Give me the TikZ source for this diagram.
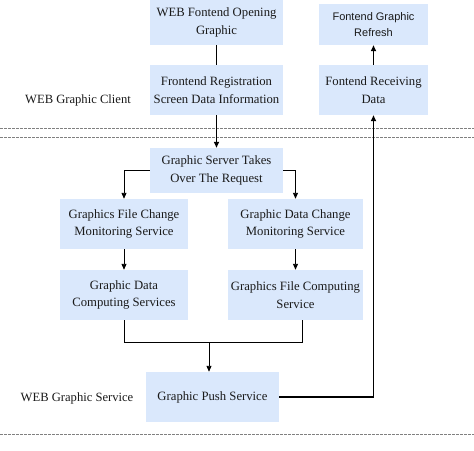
\documentclass[tikz,border=0pt]{standalone}
\usepackage{fontspec}
\setmainfont{Liberation Serif}
\newfontfamily\sansf{Liberation Sans}
\usetikzlibrary{arrows.meta}
\definecolor{boxblue}{HTML}{DAE8FC}
\definecolor{txt}{HTML}{1A1A1A}
\begin{document}
\begin{tikzpicture}[x=1pt,y=-1pt,
  box/.style={fill=boxblue, align=center, inner sep=0pt, text=txt,
    font=\fontsize{12.7}{17.5}\selectfont},
  lbl/.style={text=txt, font=\fontsize{12.6}{17}\selectfont},
  conn/.style={line width=0.9pt, -{Triangle[length=6pt,width=5pt]}},
  thickconn/.style={line width=1.6pt, -{Triangle[length=6pt,width=5pt]}},
  plainline/.style={line width=0.9pt},
  sepline/.style={gray, line width=0.6pt, dash pattern=on 2.5pt off 1.5pt}]
\useasboundingbox (0,0) rectangle (474,450);
\fill[white] (0,0) rectangle (474,450);

\node[box, minimum width=133pt, minimum height=45pt] (A) at (216.5,22.5) {WEB Fontend Opening\\Graphic};
\node[box, minimum width=133pt, minimum height=50pt] (B) at (216.5,90) {Frontend Registration\\Screen Data Information};
\node[box, minimum width=109pt, minimum height=41pt, font=\sansf\fontsize{11}{16.5}\selectfont] (C) at (373.5,24.5) {Fontend Graphic\\Refresh};
\node[box, minimum width=109pt, minimum height=50pt] (D) at (373.5,90) {Fontend Receiving\\Data};
\node[box, minimum width=133pt, minimum height=45pt] (S) at (216.5,170.5) {Graphic Server Takes\\Over The Request};
\node[box, minimum width=128pt, minimum height=50pt] (E) at (124,224) {Graphics File Change\\Monitoring Service};
\node[box, minimum width=135pt, minimum height=50pt] (F) at (295.5,224) {Graphic Data Change\\Monitoring Service};
\node[box, minimum width=128pt, minimum height=50pt] (G) at (124,295) {Graphic Data\\Computing Services};
\node[box, minimum width=135pt, minimum height=50pt] (H) at (295.5,295) {Graphics File Computing\\Service};
\node[box, minimum width=133pt, minimum height=50pt] (I) at (212.5,397) {Graphic Push Service};

\node[lbl] (client) at (78,100) {WEB Graphic Client};
\node[lbl] (service) at (77,398) {WEB Graphic Service};

\draw[sepline] (0,128) -- (474,128);
\draw[sepline] (0,137) -- (474,137);
\draw[sepline] (0,434) -- (474,434);

\draw[plainline] (A) -- (B);
\draw[thickconn] (D) -- (C);
\draw[thickconn] (B) -- (S);
\draw[conn] (S.west) -| (E.north);
\draw[conn] (S.east) -| (F.north);
\draw[conn] (E) -- (G);
\draw[conn] (F) -- (H);
\coordinate (mg) at (209,342);
\draw[plainline] (G.south) |- (mg);
\draw[plainline] ([xshift=6.5pt]H.south) |- (mg);
\draw[conn] (mg) -- (I.north -| mg);
\draw[thickconn] (I.east) -| (D.south);
\end{tikzpicture}
\end{document}
